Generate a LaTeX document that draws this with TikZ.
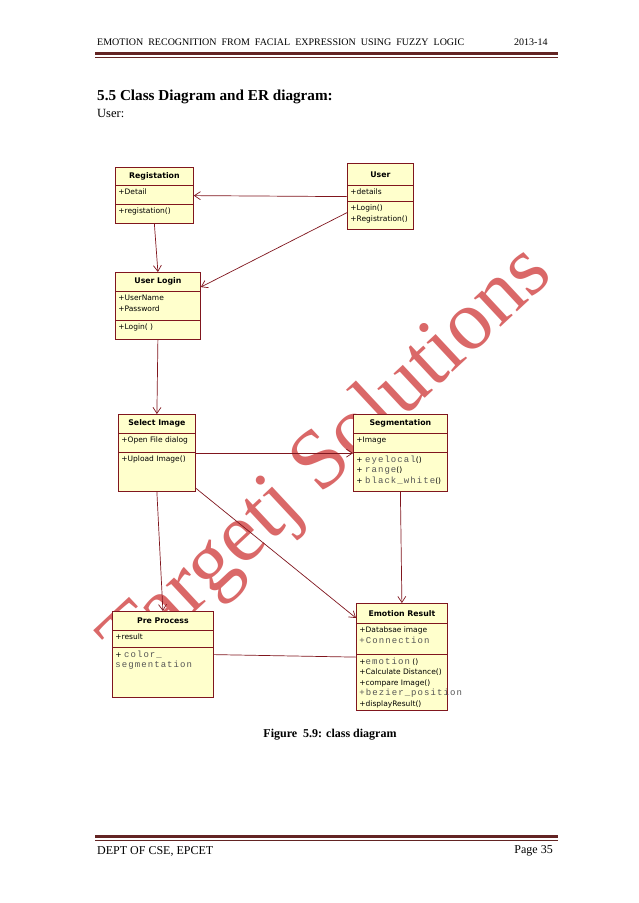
\documentclass[tikz,border=0pt]{standalone}
\usepackage{fontspec}
\setmainfont{Liberation Serif}
\newfontfamily\umlfont{DejaVu Sans}
\newfontfamily\umlcode[LetterSpace=12]{Liberation Mono}
\usetikzlibrary{positioning, arrows.meta, shapes.multipart}

\definecolor{umlline}{RGB}{128,22,30}
\definecolor{umlfill}{RGB}{255,255,204}
\definecolor{codegray}{RGB}{85,85,85}
\definecolor{rulered}{RGB}{99,36,35}
\definecolor{markred}{RGB}{218,104,104}

% parts of a class box: width, height, text
\newcommand{\umlhead}[3]{\vbox to #2{\hsize=#1\vss\centerline{\bfseries\fontsize{7.8}{9}\selectfont #3}\vss}}
\newcommand{\umlrows}[3]{\vbox to #2{\hsize=#1\leftskip=3pt\rightskip=0pt plus 1fil\parindent=0pt\vskip3.5pt\noindent#3\par\vss}}
\newcommand{\code}[1]{{\color{codegray}\umlcode\fontsize{9}{10.5}\selectfont #1}}

\tikzset{
  umlclass/.style={rectangle split, rectangle split parts=3, draw=umlline, fill=umlfill,
    line width=0.8pt, inner xsep=0pt, inner ysep=0pt, anchor=north west,
    font=\umlfont\fontsize{7.5}{10.5}\selectfont},
  assoc/.style={draw=umlline, line width=0.7pt, -{Straight Barb[length=6pt,width=8pt]}},
  link/.style={draw=umlline, line width=0.7pt},
  pagetext/.style={anchor=west, inner sep=0pt},
}

\begin{document}
\begin{tikzpicture}[x=1pt, y=-1pt]
        \useasboundingbox (0,0) rectangle (638,903);
        \fill[white] (0,0) rectangle (638,903);

        % header and footer of the page
        \node[pagetext, font=\fontsize{10}{12}\selectfont] (head) at (97,42)
            {EMOTION~\ RECOGNITION~\ FROM~\ FACIAL~\ EXPRESSION~\ USING~\ FUZZY~\ LOGIC};
        \node[pagetext, font=\fontsize{10}{12}\selectfont] (year) at (514,42) {2013-14};
        \draw[rulered, line width=3pt] (95,53) -- (558,53);
        \draw[rulered, line width=0.8pt] (95,57) -- (558,57);

        \node[pagetext, font=\bfseries\fontsize{15.2}{18}\selectfont] (sec) at (97,97) {5.5 Class Diagram and ER diagram:};
        \node[pagetext, font=\fontsize{12.5}{15}\selectfont] (sub) at (97,113) {User:};

        \node[font=\bfseries\fontsize{12}{14}\selectfont, inner sep=0pt] (cap) at (330,735) {Figure~\ 5.9: class diagram};

        \draw[rulered, line width=3pt] (95,836) -- (558,836);
        \draw[rulered, line width=0.8pt] (95,840) -- (558,840);
        \node[pagetext, font=\fontsize{12}{14}\selectfont] (dept) at (97,851) {DEPT OF CSE, EPCET};
        \node[anchor=east, inner sep=0pt, font=\fontsize{12}{14}\selectfont] (page) at (553,851) {Page 35};

        % watermark
        \node[rotate=43, text=markred, font=\fontsize{85}{85}\selectfont] (mark) at (329,460) {Targetj Solutions};

        % classes
        \node[umlclass] (reg) at (115,167)
            {\umlhead{78pt}{17pt}{Registation}
             \nodepart{two}\umlrows{78pt}{18pt}{+Detail}
             \nodepart{three}\umlrows{78pt}{19pt}{+registation()}};
        \node[umlclass] (user) at (347,163)
            {\umlhead{66pt}{21pt}{User}
             \nodepart{two}\umlrows{66pt}{15pt}{+details}
             \nodepart{three}\umlrows{66pt}{28pt}{+Login()\\+Registration()}};
        \node[umlclass] (ulogin) at (115,272)
            {\umlhead{85pt}{18pt}{User Login}
             \nodepart{two}\umlrows{85pt}{28pt}{+UserName\\+Password}
             \nodepart{three}\umlrows{85pt}{19pt}{+Login( )}};
        \node[umlclass] (selimg) at (118,414)
            {\umlhead{77pt}{18pt}{Select Image}
             \nodepart{two}\umlrows{77pt}{18pt}{+Open File dialog}
             \nodepart{three}\umlrows{77pt}{39pt}{+Upload Image()}};
        \node[umlclass] (seg) at (353,414)
            {\umlhead{94pt}{18pt}{Segmentation}
             \nodepart{two}\umlrows{94pt}{18pt}{+Image}
             \nodepart{three}\umlrows{94pt}{39pt}{+ \code{eyelocal}()\\+ \code{range}()\\+ \code{black\_white}()}};
        \node[umlclass] (pre) at (112,611)
            {\umlhead{101pt}{18pt}{Pre Process}
             \nodepart{two}\umlrows{101pt}{16pt}{+result}
             \nodepart{three}\umlrows{101pt}{50pt}{+ \code{color\_}\\\code{segmentation}}};
        \node[umlclass] (emo) at (356,603)
            {\umlhead{91pt}{19pt}{Emotion Result}
             \nodepart{two}\umlrows{91pt}{30pt}{+Databsae image\\\code{+Connection}}
             \nodepart{three}\umlrows{91pt}{56pt}{+\code{emotion} ()\\+Calculate Distance()\\+compare Image()\\\code{+bezier\_position}\\+displayResult()}};

        % associations
        \draw[assoc] (user.west) -- (reg.east);
        \draw[assoc] ([yshift=-16pt]user.west) -- ([yshift=19pt]ulogin.east);
        \draw[assoc] (reg.south) -- (ulogin.north);
        \draw[assoc] (ulogin.south) -- (selimg.north);
        \draw[assoc] (selimg.east) -- (seg.west);
        \draw[assoc] (selimg.south) -- (pre.north);
        \draw[assoc] ([yshift=4pt]selimg.south east) -- ([yshift=-15pt]emo.north west);
        \draw[assoc] (seg.south) -- (emo.north);
        \draw[link] (pre.east) -- (emo.west);

    \end{tikzpicture}
\end{document}
